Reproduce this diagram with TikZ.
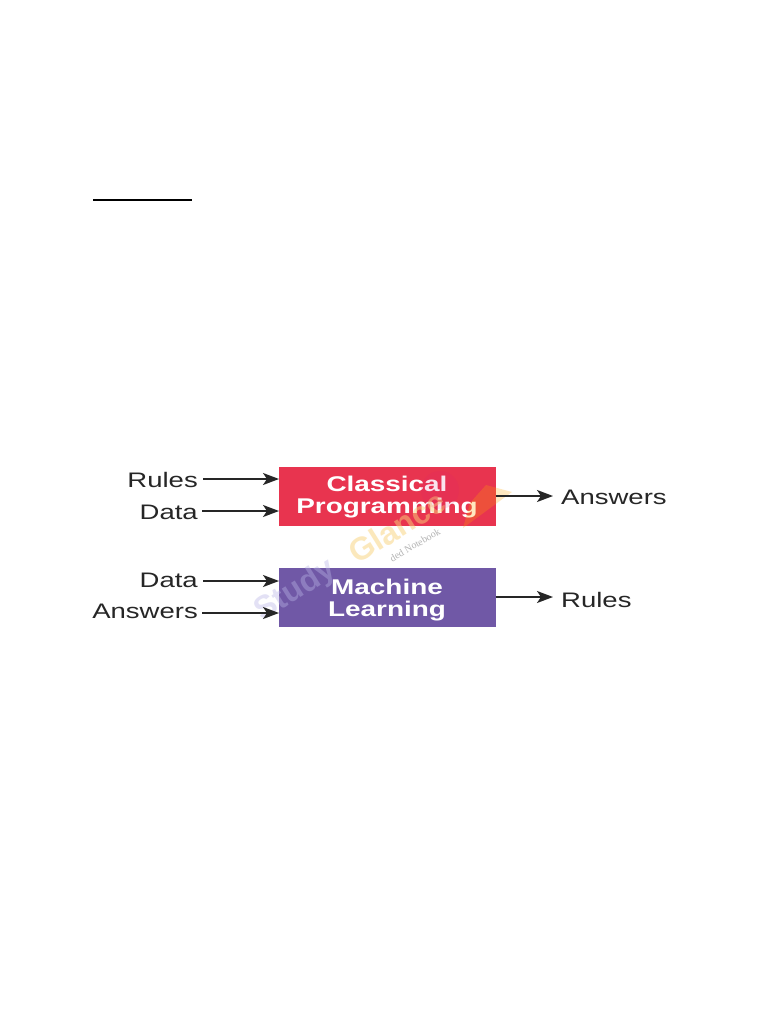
\documentclass[tikz,border=0pt]{standalone}
\usepackage{fontspec}
\setmainfont{Liberation Sans}
\newfontfamily\widefont[FakeStretch=1.31]{Liberation Sans}
\newfontfamily\wmserif{Liberation Serif}
\usetikzlibrary{arrows.meta}
\definecolor{cpred}{HTML}{E8344F}
\definecolor{mlviolet}{HTML}{7058A6}
\definecolor{inkc}{HTML}{262626}
\definecolor{wmblue}{HTML}{B9B6E6}
\definecolor{wmgold}{HTML}{F9D27A}
\tikzset{
  x=1pt,y=-1pt,
  lab/.style={font=\widefont\fontsize{21}{21}\selectfont,text=inkc,inner sep=0pt},
  boxn/.style={minimum width=217pt,minimum height=59pt,inner sep=0pt,align=center,text=white,font=\widefont\fontsize{21.3}{22}\selectfont\bfseries},
  conn/.style={draw=inkc,line width=1.6pt,-{Stealth[length=16pt,width=12pt,inset=4pt]}},
  wm/.style={inner sep=0pt,rotate=32,font=\bfseries\fontsize{32}{32}\selectfont}
}
\begin{document}
\begin{tikzpicture}
\useasboundingbox (0,0) rectangle (768,1024);
\fill[white] (0,0) rectangle (768,1024);
\coordinate (ulA) at (93,200);
\coordinate (ulB) at (192,200);
\draw[black,line width=1.6pt] (ulA) -- (ulB);
\node[boxn,fill=cpred] (cp) at (387,496) {\rule{0pt}{17pt}Classical\\Programming};
\node[boxn,fill=mlviolet] (ml) at (387,597) {\rule{0pt}{21pt}Machine\\Learning};
% watermark
\node[wm,text=wmblue,opacity=.4] (wstudy) at (296,591) {Study};
\node[wm,text=wmgold,opacity=.5] (wglance) at (397,527) {Glance};
\node[inner sep=0pt,rotate=30,text=gray,opacity=.6,font=\wmserif\fontsize{10}{10}\selectfont] (wnote) at (415,545) {ded Notebook};
\fill[magenta!60!purple,opacity=.12] (440,490) circle[radius=19];
\fill[orange!70!yellow,opacity=.25] (463,528) -- (512,492) -- (486,485) -- (470,503) -- cycle;
\node[lab,anchor=east] (r1) at (198,480) {Rules};
\node[lab,anchor=east] (d1) at (198,512) {Data};
\node[lab,anchor=east] (d2) at (198,580) {Data};
\node[lab,anchor=east] (a2) at (198,611) {Answers};
\node[lab,anchor=west] (a1) at (561,497) {Answers};
\node[lab,anchor=west] (r2) at (561,600) {Rules};
\coordinate (s1) at (203,479);
\coordinate (s2) at (202,511);
\coordinate (s3) at (203,581);
\coordinate (s4) at (202,613);
\coordinate (cpr) at (279,479);
\coordinate (cpd) at (279,511);
\coordinate (mld) at (279,581);
\coordinate (mla) at (279,613);
\coordinate (ansT) at (553,496);
\coordinate (rulT) at (553,597);
\draw[conn] (s1) -- (cpr);
\draw[conn] (s2) -- (cpd);
\draw[conn] (s3) -- (mld);
\draw[conn] (s4) -- (mla);
\draw[conn] (cp.east) -- (ansT);
\draw[conn] (ml.east) -- (rulT);
\end{tikzpicture}
\end{document}
